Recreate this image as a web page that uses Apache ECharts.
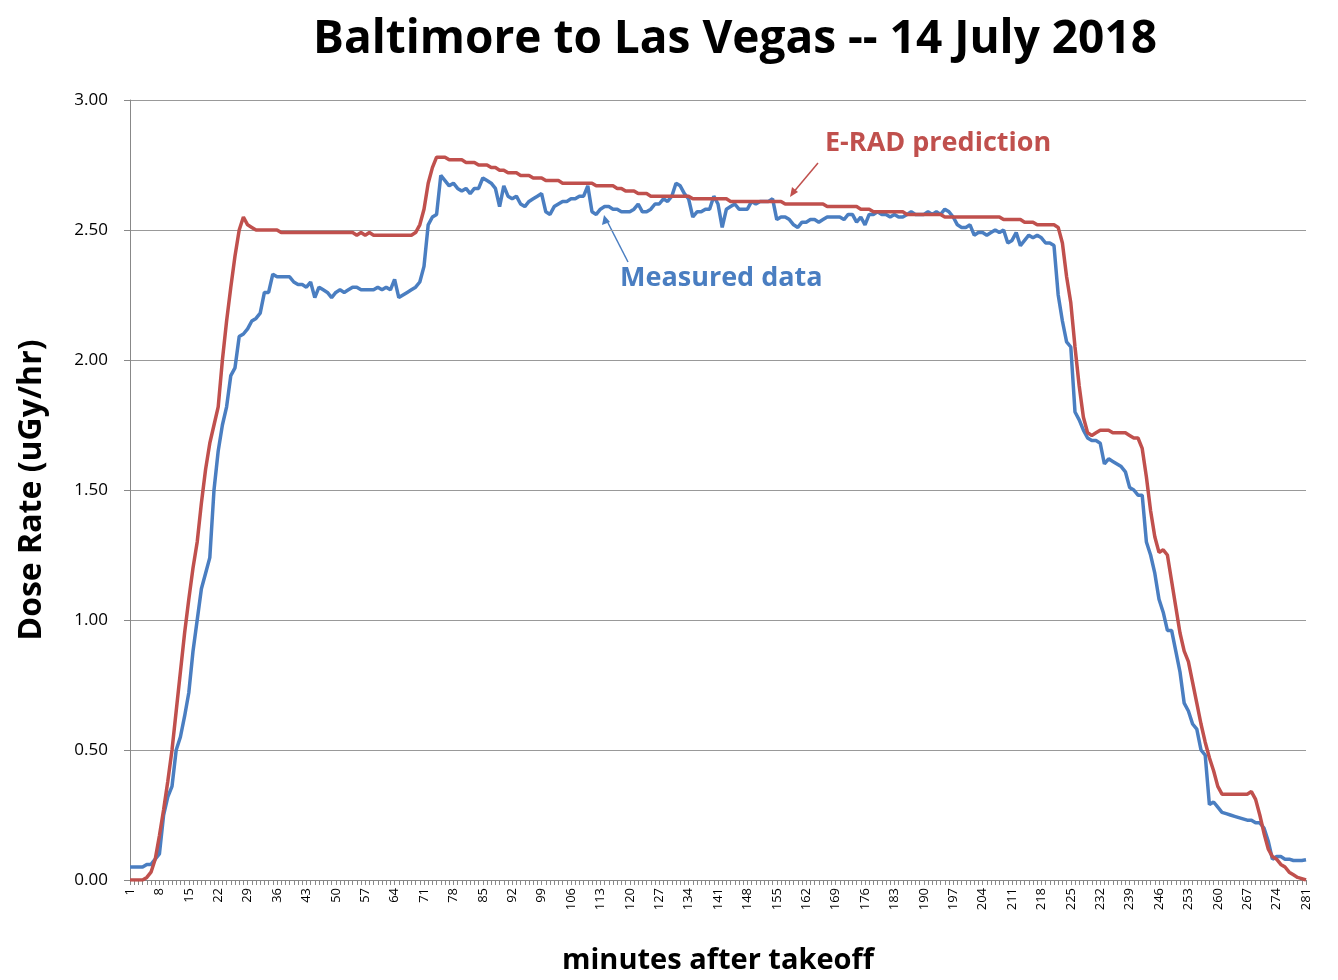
<!DOCTYPE html>
<html><head><meta charset="utf-8">
<script src="https://cdn.jsdelivr.net/npm/echarts@6/dist/echarts.min.js"></script>
<style>html,body{margin:0;padding:0;background:#fff}#c{width:1338px;height:980px}</style>
</head><body><div id="c"></div>
<script>
const minutes = Array.from({length:281},(_,i)=>String(i+1));
const measured = [].concat(
[.05,.05,.05,.05,.06,.06,.08,.10,.25,.32],
[.36,.50,.55,.63,.72,.88,1.00,1.12,1.18,1.24],
[1.50,1.65,1.75,1.82,1.94,1.97,2.09,2.10,2.12,2.15],
[2.16,2.18,2.26,2.26,2.33,2.32,2.32,2.32,2.32,2.30],
[2.29,2.29,2.28,2.30,2.24,2.28,2.27,2.26,2.24,2.26],
[2.27,2.26,2.27,2.28,2.28,2.27,2.27,2.27,2.27,2.28],
[2.27,2.28,2.27,2.31,2.24,2.25,2.26,2.27,2.28,2.30],
[2.36,2.52,2.55,2.56,2.71,2.69,2.67,2.68,2.66,2.65],
[2.66,2.64,2.66,2.66,2.70,2.69,2.68,2.66,2.59,2.67],
[2.63,2.62,2.63,2.60,2.59,2.61,2.62,2.63,2.64,2.57],
[2.56,2.59,2.60,2.61,2.61,2.62,2.62,2.63,2.63,2.67],
[2.57,2.56,2.58,2.59,2.59,2.58,2.58,2.57,2.57,2.57],
[2.58,2.60,2.57,2.57,2.58,2.60,2.60,2.62,2.61,2.63],
[2.68,2.67,2.64,2.62,2.55,2.57,2.57,2.58,2.58,2.63],
[2.60,2.51,2.58,2.59,2.60,2.58,2.58,2.58,2.61,2.60],
[2.61,2.61,2.61,2.62,2.54,2.55,2.55,2.54,2.52,2.51],
[2.53,2.53,2.54,2.54,2.53,2.54,2.55,2.55,2.55,2.55],
[2.54,2.56,2.56,2.53,2.55,2.52,2.56,2.56,2.57,2.56],
[2.56,2.55,2.56,2.55,2.55,2.56,2.57,2.56,2.56,2.56],
[2.57,2.56,2.57,2.56,2.58,2.57,2.55,2.52,2.51,2.51],
[2.52,2.48,2.49,2.49,2.48,2.49,2.50,2.49,2.50,2.45],
[2.46,2.49,2.44,2.46,2.48,2.47,2.48,2.47,2.45,2.45],
[2.44,2.25,2.15,2.07,2.05,1.80,1.77,1.73,1.70,1.69],
[1.69,1.68,1.60,1.62,1.61,1.60,1.59,1.57,1.51,1.50],
[1.48,1.48,1.30,1.25,1.18,1.08,1.03,0.96,0.96,0.88],
[0.80,0.68,0.65,0.60,0.58,0.50,0.48,0.29,0.30,0.28],
[0.26,0.255,0.25,0.245,0.24,0.235,0.23,0.23,0.22,0.22],
[0.20,0.15,0.08,0.09,0.09,0.08,0.08,0.075,0.075,0.075,0.078]
);
const predicted = [].concat(
[0,0,0,0,.01,.03,.08,.17,.27,.38],
[.50,.65,.80,.95,1.08,1.20,1.30,1.45,1.58,1.68],
[1.75,1.82,2.00,2.15,2.28,2.40,2.50,2.55,2.52,2.51],
[2.50,2.50,2.50,2.50,2.50,2.50,2.49,2.49,2.49,2.49],
[2.49,2.49,2.49,2.49,2.49,2.49,2.49,2.49,2.49,2.49],
[2.49,2.49,2.49,2.49,2.48,2.49,2.48,2.49,2.48,2.48],
[2.48,2.48,2.48,2.48,2.48,2.48,2.48,2.48,2.49,2.52],
[2.58,2.68,2.74,2.78,2.78],
[2.78,2.77,2.77,2.77,2.77,2.76,2.76,2.76,2.75,2.75],
[2.75,2.74,2.74,2.73,2.73,2.72,2.72,2.72,2.71,2.71],
[2.71,2.70,2.70,2.70,2.69,2.69,2.69,2.69,2.68,2.68],
[2.68,2.68,2.68,2.68,2.68,2.68,2.67,2.67,2.67,2.67],
[2.67,2.66,2.66,2.65,2.65,2.65,2.64,2.64,2.64,2.63],
[2.63,2.63,2.63,2.63,2.63,2.63,2.63,2.63,2.63,2.62],
[2.62,2.62,2.62,2.62,2.62,2.62,2.62,2.62,2.61,2.61],
[2.61,2.61,2.61,2.61,2.61,2.61,2.61,2.61,2.61,2.61],
[2.61,2.60,2.60,2.60,2.60,2.60,2.60,2.60,2.60,2.60],
[2.60,2.59,2.59,2.59,2.59,2.59,2.59,2.59,2.59,2.58],
[2.58,2.58,2.57,2.57,2.57,2.57,2.57,2.57,2.57,2.57],
[2.56,2.56,2.56,2.56,2.56,2.56,2.56,2.56,2.56,2.55],
[2.55,2.55,2.55,2.55,2.55,2.55,2.55,2.55,2.55,2.55],
[2.55,2.55,2.55,2.54,2.54,2.54,2.54,2.54,2.53,2.53],
[2.53,2.52,2.52,2.52,2.52,2.52,2.51],
[2.45,2.32,2.22,2.05,1.90,1.78,1.72,1.71],
[1.72,1.73,1.73,1.73,1.72,1.72,1.72,1.72,1.71,1.70],
[1.70,1.66,1.55,1.42,1.32,1.26,1.27,1.25,1.15,1.05],
[0.95,0.88,0.84,0.76,0.68,0.60,0.53,0.47,0.42,0.36],
[0.33,0.33,0.33,0.33,0.33,0.33,0.33,0.34,0.31,0.25],
[0.18,0.12,0.09,0.08,0.06,0.05,0.03,0.02,0.01,0.005,0.0]
);
const FONT = '"Open Sans", "Liberation Sans", sans-serif';
const chart = echarts.init(document.getElementById('c'));
chart.setOption({
  animation:false,
  title:{text:'Baltimore to Las Vegas -- 14 July 2018',left:730,top:12,textAlign:'center',
    textStyle:{fontFamily:FONT,fontWeight:'bold',fontSize:46,color:'#000'}},
  grid:{left:130,right:32,top:100,bottom:89},
  xAxis:{type:'category',data:minutes,boundaryGap:false,
    name:'minutes after takeoff',nameLocation:'middle',nameGap:66,
    nameTextStyle:{fontFamily:FONT,fontWeight:'bold',fontSize:29,color:'#000'},
    axisLine:{lineStyle:{color:'#888'}},
    axisTick:{show:true,interval:0,length:5,lineStyle:{color:'#888'}},
    axisLabel:{interval:6,rotate:90,fontFamily:FONT,fontSize:13,color:'#000'},
    splitLine:{show:false}},
  yAxis:{type:'value',min:0,max:3,interval:0.5,
    name:'Dose Rate (uGy/hr)',nameLocation:'middle',nameGap:82,
    nameTextStyle:{fontFamily:FONT,fontWeight:'bold',fontSize:32,color:'#000'},
    axisLine:{show:true,lineStyle:{color:'#888'}},
    axisTick:{show:true,length:6,lineStyle:{color:'#888'}},
    axisLabel:{formatter:v=>v.toFixed(2),fontFamily:FONT,fontSize:17,color:'#000',margin:22},
    splitLine:{lineStyle:{color:'#999',width:1}}},
  series:[
    {name:'Measured data',type:'line',data:measured,showSymbol:false,lineStyle:{color:'#4A7EC1',width:3.5},z:2},
    {name:'E-RAD prediction',type:'line',data:predicted,showSymbol:false,lineStyle:{color:'#C0504D',width:3.5},z:3}
  ],
  graphic:[
    {type:'text',left:825,top:130,style:{text:'E-RAD prediction',fill:'#C0504D',font:'bold 27px '+FONT}},
    {type:'line',shape:{x1:818,y1:163,x2:792,y2:194},style:{stroke:'#C0504D',lineWidth:1.5}},
    {type:'polygon',shape:{points:[[790,197],[792,187],[798,192]]},style:{fill:'#C0504D'}},
    {type:'text',left:620,top:265,style:{text:'Measured data',fill:'#4A7EC1',font:'bold 27px '+FONT}},
    {type:'line',shape:{x1:628,y1:262,x2:606,y2:219},style:{stroke:'#4A7EC1',lineWidth:1.5}},
    {type:'polygon',shape:{points:[[604,215],[602,225],[610,222]]},style:{fill:'#4A7EC1'}}
  ]
});
</script></body></html>
